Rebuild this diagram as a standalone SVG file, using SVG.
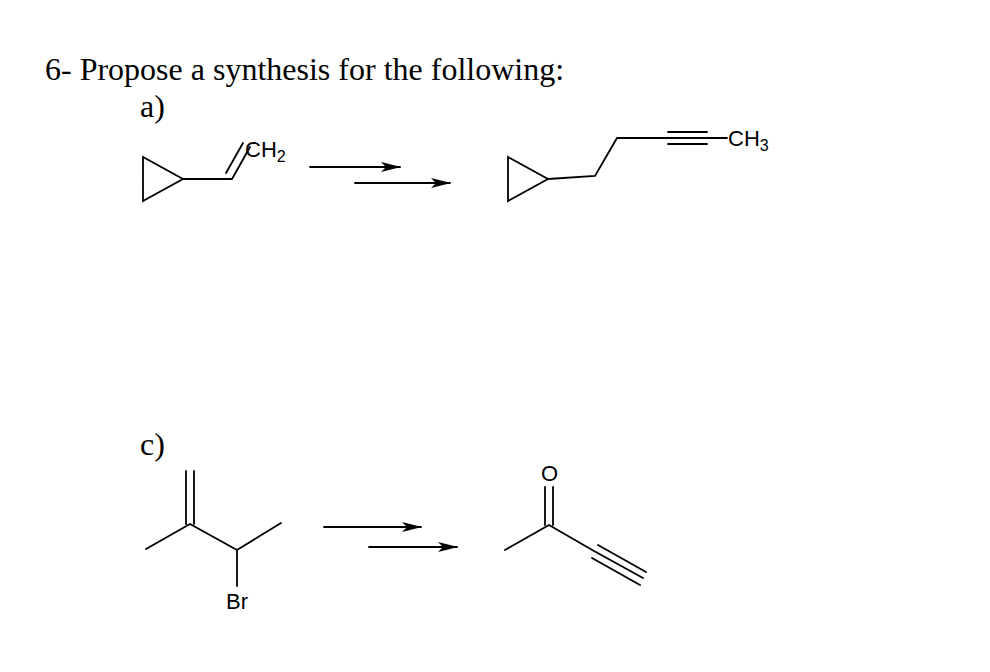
<svg xmlns="http://www.w3.org/2000/svg" width="990" height="672" viewBox="0 0 990 672">
<style>
.b{stroke:#000;stroke-width:1.8;fill:none;stroke-linecap:round}
.t{font-family:"Liberation Serif",serif;fill:#000}
.s{font-family:"Liberation Sans",Arial,sans-serif;fill:#000;font-size:22px}
</style>
<defs><marker id="ah" markerWidth="20" markerHeight="10" refX="19" refY="5" orient="auto" markerUnits="userSpaceOnUse"><path d="M0,0 L20,5 L0,10 L5,5Z" fill="#000"/></marker></defs>
<rect width="990" height="672" fill="#fff"/>
<text class="t" x="45" y="80" font-size="32">6- Propose a synthesis for the following:</text>
<text class="t" x="140" y="117" font-size="32">a)</text>
<text class="t" x="140" y="455" font-size="32">c)</text>
<g id="sm-a">
<path class="b" d="M143,157 L143,201 L183,179 Z M183,179 L232,179 L250,147 M226,173 L243,143"/>
<text class="s" x="245" y="157">CH<tspan font-size="16" dy="5">2</tspan></text>
</g>
<g id="pr-a">
<path class="b" d="M508,157 L508,201 L548,179 Z M548,179 L595,176 L617,138 L665,138 M665,138 L710,138 M668,132 L707,132 M668,144 L707,144 M710,138 L727,138"/>
<text class="s" x="728" y="146">CH<tspan font-size="16" dy="5">3</tspan></text>
</g>
<g id="sm-c">
<path class="b" d="M146,549 L190,524 L237,550 L281,523 M237,550 L237,586 M186,524 L186,471 M194,524 L194,471"/>
<text class="s" x="226" y="609">Br</text>
</g>
<g id="pr-c">
<path class="b" d="M505,550 L549,525 L594,551 L643,578 M545,525 L545,487 M553,525 L553,487 M598,545 L646,572 M592,558 L640,585"/>
<text class="s" x="541" y="481">O</text>
</g>
<g id="connectors">
<path class="b" d="M310,167 L400,167" marker-end="url(#ah)"/>
<path class="b" d="M355,183 L450,183" marker-end="url(#ah)"/>
<path class="b" d="M324,527 L421,527" marker-end="url(#ah)"/>
<path class="b" d="M369,547 L457,547" marker-end="url(#ah)"/>
</g>
</svg>
